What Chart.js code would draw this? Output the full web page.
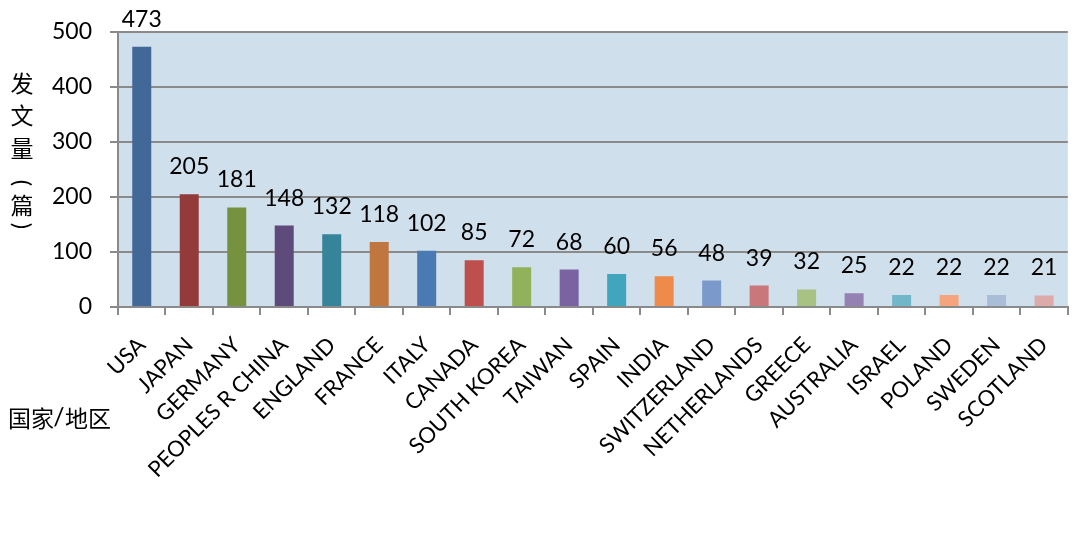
<!DOCTYPE html>
<html><head><meta charset="utf-8">
<script src="https://cdn.jsdelivr.net/npm/chart.js@4.4.0/dist/chart.umd.min.js"></script>
<style>html,body{margin:0;padding:0;background:#fff}#wrap{width:1080px;height:542px}</style>
</head><body><div id="wrap"><canvas id="c" width="1080" height="542"></canvas></div>
<script>
const categories = ["USA","JAPAN","GERMANY","PEOPLES R CHINA","ENGLAND","FRANCE","ITALY","CANADA","SOUTH KOREA","TAIWAN","SPAIN","INDIA","SWITZERLAND","NETHERLANDS","GREECE","AUSTRALIA","ISRAEL","POLAND","SWEDEN","SCOTLAND"];
const values = [473,205,181,148,132,118,102,85,72,68,60,56,48,39,32,25,22,22,22,21];
const barColors = ["#416896","#933b3b","#77923f","#5f4a7c","#36849a","#c0773f","#4a7ab3","#bd4f4c","#91b25a","#7b62a0","#42a5be","#ee8a4a","#7b9acb","#c9777a","#a8c283","#9582b2","#72b6ca","#f6a47c","#a9bcd8","#dcaaa9"];
const yTitleChars = ["发","文","量","(","篇",")"];
const xTitleParts = ["国家","/","地区"];

const bgPlugin = {
  id:'bg',
  beforeDraw(chart){
    const {ctx, chartArea:a} = chart;
    ctx.save(); ctx.fillStyle = '#d0dfec';
    ctx.fillRect(a.left, a.top, a.right-a.left, a.bottom-a.top);
    ctx.restore();
  }
};
const labelPlugin = {
  id:'labels',
  afterDatasetsDraw(chart){
    const ctx = chart.ctx; const meta = chart.getDatasetMeta(0);
    ctx.save();
    ctx.font = '23px Lato'; ctx.fillStyle = '#000'; ctx.textAlign='center'; ctx.textBaseline='alphabetic';
    meta.data.forEach((bar,i)=>{ ctx.fillText(String(values[i]), bar.x, bar.y - 20); });
    ctx.font = '23px "Noto Sans CJK SC"'; ctx.textAlign='center'; ctx.textBaseline='middle';
    const ys = [83,115,148,183,205,226];
    yTitleChars.forEach((ch,i)=>{
      if (ch==='(' || ch===')') {
        ctx.save(); ctx.font = '24px Lato'; ctx.translate(22, ys[i]); ctx.rotate(Math.PI/2);
        ctx.fillText(ch, 0, 0); ctx.restore();
      } else ctx.fillText(ch, 22, ys[i]);
    });
    ctx.textAlign='left';
    ctx.font = '23px "Noto Sans CJK SC"';
    ctx.fillText(xTitleParts[0], 8, 418);
    ctx.font = '25px Lato'; ctx.textAlign='center';
    ctx.fillText(xTitleParts[1], 59, 418);
    ctx.font = '23px "Noto Sans CJK SC"'; ctx.textAlign='left';
    ctx.fillText(xTitleParts[2], 65, 418);
    ctx.restore();
  }
};

new Chart(document.getElementById('c'), {
  type:'bar',
  data:{ labels: categories, datasets:[{ data: values, backgroundColor: barColors, barPercentage:0.4, categoryPercentage:1.0 }]},
  options:{
    responsive:false, animation:false, devicePixelRatio:1,
    layout:{ padding:{ top:20, right:10, left:0, bottom:0 } },
    plugins:{ legend:{display:false}, tooltip:{enabled:false} },
    scales:{
      y:{ min:0, max:500,
        ticks:{ stepSize:100, color:'#000', font:{family:'Lato', size:23}, padding:18 },
        grid:{ color:'#8a8a8a', lineWidth:2, tickLength:8 },
        border:{ color:'#8a8a8a', width:2 },
        afterFit(s){ s.width = 118; }
      },
      x:{
        ticks:{ color:'#000', font:{family:'Lato', size:22}, minRotation:45, maxRotation:45, autoSkip:false, padding:17 },
        grid:{ drawOnChartArea:false, color:'#8a8a8a', lineWidth:2, tickLength:8, offset:true },
        border:{ color:'#8a8a8a', width:2 },
        afterFit(s){ s.height = 542-307; }
      }
    }
  },
  plugins:[bgPlugin, labelPlugin]
});
</script></body></html>
